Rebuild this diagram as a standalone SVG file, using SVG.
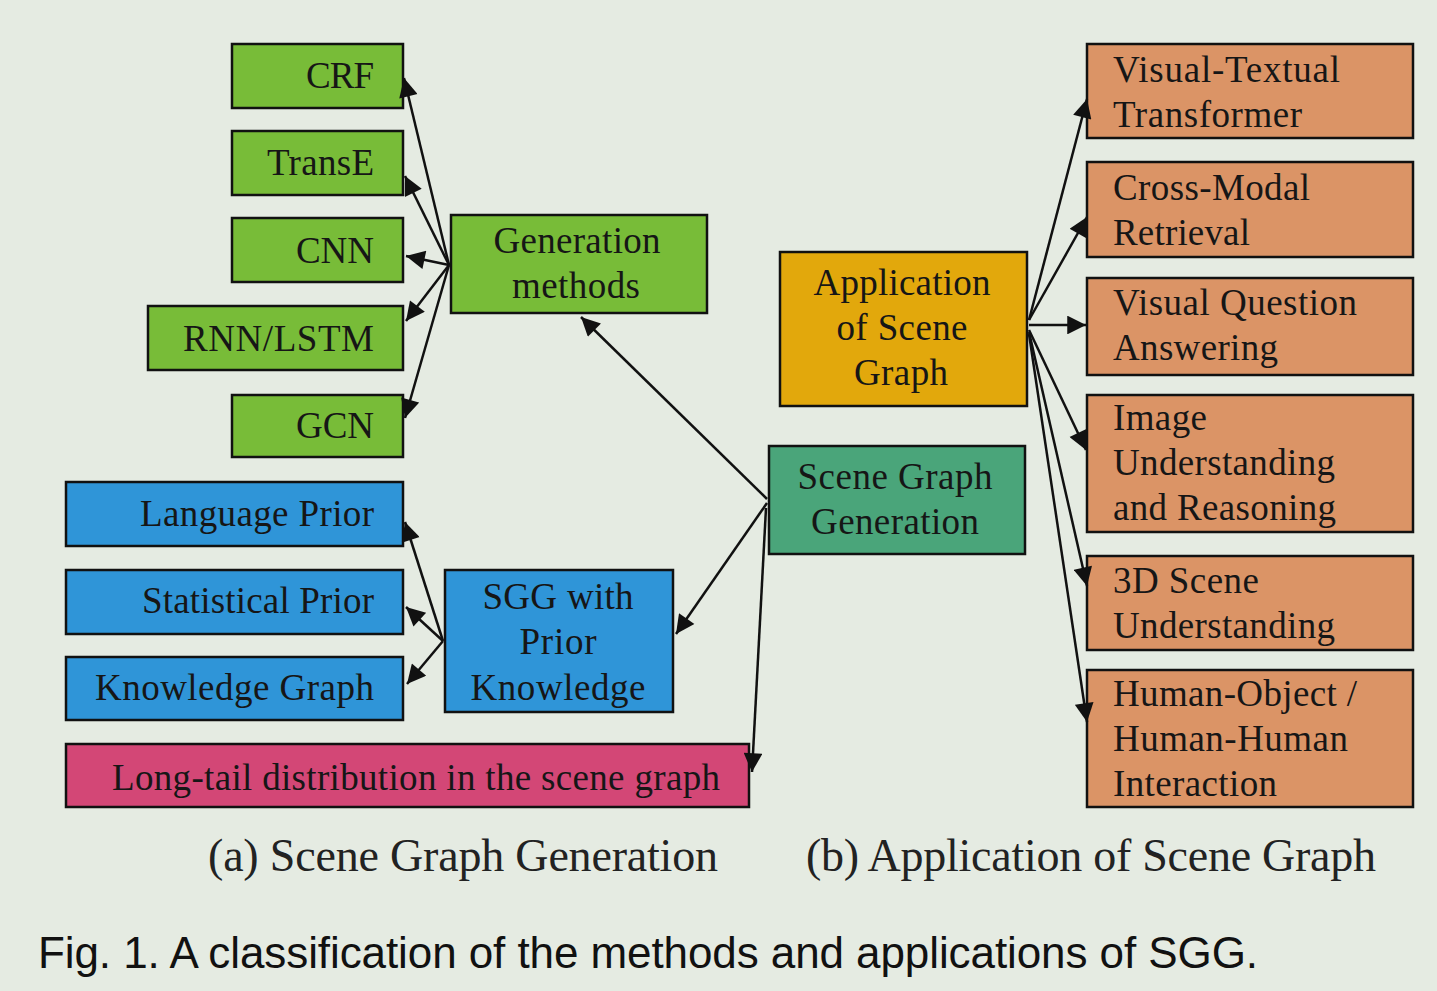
<svg xmlns="http://www.w3.org/2000/svg" width="1437" height="991" viewBox="0 0 1437 991">
<defs>
<marker id="ah" viewBox="0 0 10 10" refX="10" refY="5" markerWidth="8.5" markerHeight="7.5" markerUnits="strokeWidth" orient="auto">
<path d="M0,0 L10,5 L0,10 z" fill="#111"/>
</marker>
<style>
.box{stroke:#111;stroke-width:2.5}
.g{fill:#78bc38}.b{fill:#2f95d8}.p{fill:#d34776}.y{fill:#e2a80c}.t{fill:#4aa57a}.o{fill:#db9466}
text{font-family:"Liberation Serif","Times New Roman",serif;font-size:37px;fill:#161616}
.e{text-anchor:end}.m{text-anchor:middle}
.cap{font-size:46px;fill:#222}
.fig{font-family:"Liberation Sans",Arial,sans-serif;font-size:44px;fill:#111}
.c{stroke:#111;stroke-width:2.5;fill:none;marker-end:url(#ah)}
</style>
</defs>
<rect width="1437" height="991" fill="#e5ebe2"/>
<g id="crf"><rect class="box g" x="232" y="44" width="171" height="64"/><text class="e" x="374" y="88" textLength="68">CRF</text></g>
<g id="transe"><rect class="box g" x="232" y="131" width="171" height="64"/><text class="e" x="374" y="175" textLength="107">TransE</text></g>
<g id="cnn"><rect class="box g" x="232" y="218" width="171" height="64"/><text class="e" x="374" y="263" textLength="78">CNN</text></g>
<g id="rnn"><rect class="box g" x="148" y="306" width="255" height="64"/><text class="e" x="374" y="351" textLength="191">RNN/LSTM</text></g>
<g id="gcn"><rect class="box g" x="232" y="395" width="171" height="62"/><text class="e" x="374" y="438" textLength="78">GCN</text></g>
<g id="genmethods"><rect class="box g" x="451" y="215" width="256" height="98"/><text class="m" x="577" y="253" textLength="167">Generation</text><text class="m" x="576" y="298" textLength="128">methods</text></g>
<g id="langprior"><rect class="box b" x="66" y="482" width="337" height="64"/><text class="e" x="374" y="526" textLength="234">Language Prior</text></g>
<g id="statprior"><rect class="box b" x="66" y="570" width="337" height="64"/><text class="e" x="374" y="613" textLength="232">Statistical Prior</text></g>
<g id="kg"><rect class="box b" x="66" y="657" width="337" height="63"/><text class="e" x="374" y="700" textLength="279">Knowledge Graph</text></g>
<g id="sggprior"><rect class="box b" x="445" y="570" width="228" height="142"/><text class="m" x="558" y="609" textLength="151">SGG with</text><text class="m" x="558" y="654" textLength="77">Prior</text><text class="m" x="558" y="700" textLength="175">Knowledge</text></g>
<g id="longtail"><rect class="box p" x="66" y="744" width="683" height="63"/><text x="112" y="790" textLength="608">Long-tail distribution in the scene graph</text></g>
<g id="app"><rect class="box y" x="780" y="252" width="247" height="154"/><text class="m" x="902" y="295" textLength="177">Application</text><text class="m" x="902" y="340" textLength="131">of Scene</text><text class="m" x="901" y="385" textLength="94">Graph</text></g>
<g id="sgg"><rect class="box t" x="769" y="446" width="256" height="108"/><text class="m" x="895" y="489" textLength="195">Scene Graph</text><text class="m" x="895" y="534" textLength="168">Generation</text></g>
<g id="vtt"><rect class="box o" x="1087" y="44" width="326" height="94"/><text x="1113" y="82" textLength="227">Visual-Textual</text><text x="1113" y="127" textLength="189">Transformer</text></g>
<g id="cmr"><rect class="box o" x="1087" y="162" width="326" height="95"/><text x="1113" y="200" textLength="197">Cross-Modal</text><text x="1113" y="245" textLength="137">Retrieval</text></g>
<g id="vqa"><rect class="box o" x="1087" y="278" width="326" height="97"/><text x="1113" y="315" textLength="244">Visual Question</text><text x="1113" y="360" textLength="165">Answering</text></g>
<g id="iur"><rect class="box o" x="1087" y="395" width="326" height="137"/><text x="1113" y="430" textLength="94">Image</text><text x="1113" y="475" textLength="222">Understanding</text><text x="1113" y="520" textLength="223">and Reasoning</text></g>
<g id="3d"><rect class="box o" x="1087" y="556" width="326" height="94"/><text x="1113" y="593" textLength="146">3D Scene</text><text x="1113" y="638" textLength="222">Understanding</text></g>
<g id="hoi"><rect class="box o" x="1087" y="670" width="326" height="137"/><text x="1113" y="706" textLength="244">Human-Object /</text><text x="1113" y="751" textLength="235">Human-Human</text><text x="1113" y="796" textLength="164">Interaction</text></g>
<g id="connectors">
<line class="c" x1="449" y1="265" x2="404" y2="78"/>
<line class="c" x1="449" y1="265" x2="405" y2="176"/>
<line class="c" x1="449" y1="265" x2="406" y2="256"/>
<line class="c" x1="449" y1="265" x2="406" y2="321"/>
<line class="c" x1="449" y1="265" x2="405" y2="418"/>
<line class="c" x1="443" y1="641" x2="405" y2="522"/>
<line class="c" x1="443" y1="641" x2="406" y2="607"/>
<line class="c" x1="443" y1="641" x2="407" y2="684"/>
<line class="c" x1="767" y1="499" x2="581" y2="317"/>
<line class="c" x1="767" y1="503" x2="676" y2="634"/>
<line class="c" x1="766" y1="508" x2="752" y2="772"/>
<line class="c" x1="1029" y1="320" x2="1087" y2="99"/>
<line class="c" x1="1029" y1="320" x2="1087" y2="217"/>
<line class="c" x1="1029" y1="325" x2="1086" y2="325"/>
<line class="c" x1="1029" y1="330" x2="1086" y2="450"/>
<line class="c" x1="1029" y1="332" x2="1087" y2="586"/>
<line class="c" x1="1029" y1="334" x2="1087" y2="722"/>
</g>
<text class="cap" x="208" y="871" textLength="510">(a) Scene Graph Generation</text>
<text class="cap" x="806" y="871" textLength="570">(b) Application of Scene Graph</text>
<text class="fig" x="38" y="968" textLength="1220">Fig. 1. A classification of the methods and applications of SGG.</text>
</svg>
